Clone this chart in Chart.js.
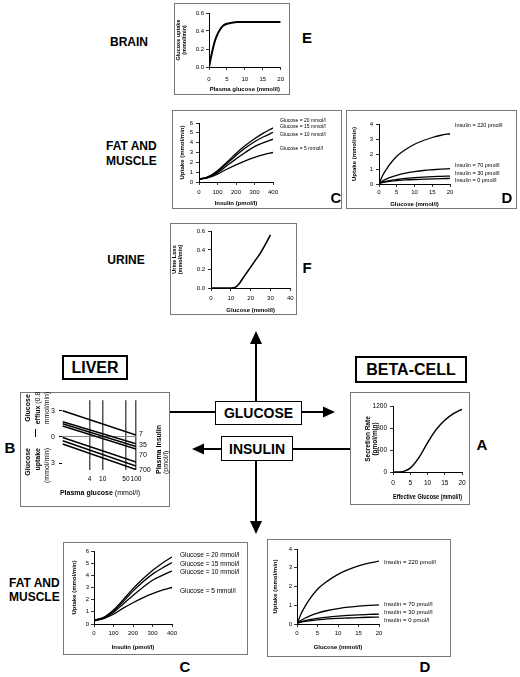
<!DOCTYPE html>
<html>
<head>
<meta charset="utf-8">
<script src="https://cdn.jsdelivr.net/npm/chart.js@4.4.1/dist/chart.umd.min.js"></script>
<style>
  html, body { margin: 0; padding: 0; background: #fff; }
  body { position: relative; width: 520px; height: 677px; overflow: hidden;
         font-family: "Liberation Sans", Arial, sans-serif; color: #000; }
  .frame { position: absolute; border: 1px solid #777; box-sizing: border-box; }
  canvas { position: absolute; }
  .t { position: absolute; font-weight: bold; white-space: nowrap; line-height: 1.15; }
  .c { transform: translate(-50%, -50%); text-align: center; }
  .box { position: absolute; box-sizing: border-box; border: 2px solid #000; background: #fff;
         font-weight: bold; display: flex; align-items: center; justify-content: center; }
  .rot { position: absolute; white-space: nowrap; font-size: 7px;
         transform: translate(-50%, -50%) rotate(-90deg); }
</style>
</head>
<body>
<svg width="520" height="677" style="position:absolute;left:0;top:0">
  <g stroke="#000" stroke-width="2">
    <line x1="256" y1="401" x2="256" y2="343"/>
    <line x1="170" y1="412" x2="215" y2="412"/>
    <line x1="302" y1="412" x2="324" y2="412"/>
    <line x1="293" y1="449" x2="350" y2="449"/>
    <line x1="221" y1="449" x2="203" y2="449"/>
    <line x1="256" y1="461" x2="256" y2="522"/>
  </g>
  <g fill="#000">
    <polygon points="256,331 250,344 262,344"/>
    <polygon points="335,412 323,406.5 323,417.5"/>
    <polygon points="192,449 204,443.5 204,454.5"/>
    <polygon points="256,534 250,521 262,521"/>
  </g>
</svg>

<div id="charts"></div>

<div class="t c" style="left:129px;top:43px;font-size:12px">BRAIN</div>
<div class="t" style="left:106px;top:139px;font-size:12px;line-height:15px">FAT AND<br>MUSCLE</div>
<div class="t c" style="left:126px;top:261px;font-size:12px">URINE</div>
<div class="t" style="left:9px;top:576px;font-size:12px;line-height:14px">FAT AND<br>MUSCLE</div>

<div class="t c" style="left:307px;top:38px;font-size:15px">E</div>
<div class="t c" style="left:336px;top:198px;font-size:15px">C</div>
<div class="t c" style="left:507px;top:198px;font-size:15px">D</div>
<div class="t c" style="left:307px;top:268px;font-size:15px">F</div>
<div class="t c" style="left:482px;top:445px;font-size:15px">A</div>
<div class="t c" style="left:10px;top:448px;font-size:15px">B</div>
<div class="t c" style="left:185px;top:667px;font-size:15px">C</div>
<div class="t c" style="left:425px;top:667px;font-size:15px">D</div>

<div class="box" style="left:62px;top:355px;width:66px;height:25px;font-size:16px">LIVER</div>
<div class="box" style="left:355px;top:356px;width:112px;height:27px;font-size:16px">BETA-CELL</div>
<div class="box" style="left:215px;top:401px;width:87px;height:24px;font-size:14px;border-width:1.5px">GLUCOSE</div>
<div class="box" style="left:221px;top:436px;width:72px;height:25px;font-size:14px;border-width:1.5px">INSULIN</div>

<!-- liver nomogram side texts -->
<div class="rot" style="left:37px;top:408px;width:36px;line-height:9.5px;text-align:center"><b>Glucose<br>efflux</b> (0.8<br>mmol/min)</div>
<div style="position:absolute;left:35px;top:429px;width:1px;height:8px;background:#000"></div>
<div class="rot" style="left:37px;top:468px;width:40px;line-height:9.5px;text-align:right"><b>Glucose<br>uptake</b><br>(mmol/min)</div>
<div class="rot" style="left:162px;top:445px;width:58px;line-height:7px;text-align:left"><b>Plasma Insulin</b><br>(pmol/l)</div>
<div class="t c" style="left:100px;top:493px;font-size:7px"><b>Plasma glucose</b> <span style="font-weight:normal">(mmol/l)</span></div>

<script>
// E: brain glucose uptake vs plasma glucose
const brainGlucose = [0, 0.5, 1, 1.5, 2, 3, 4, 5, 6, 8, 10, 15, 20];
const brainUptake = [0, 0.1, 0.19, 0.27, 0.33, 0.41, 0.46, 0.48, 0.49, 0.5, 0.5, 0.5, 0.5];

// C: fat and muscle uptake vs insulin, one curve per glucose level
const cInsulin = [0, 50, 100, 150, 200, 250, 300, 350, 400];
const cUptakeG20 = [0.3, 0.55, 1.15, 2.0, 2.9, 3.7, 4.4, 5.0, 5.5];
const cUptakeG15 = [0.3, 0.5, 1.05, 1.85, 2.7, 3.45, 4.1, 4.6, 5.05];
const cUptakeG10 = [0.3, 0.48, 0.95, 1.65, 2.35, 3.0, 3.6, 4.0, 4.35];
const cUptakeG5 = [0.25, 0.45, 0.8, 1.3, 1.75, 2.15, 2.5, 2.78, 3.0];
const cLabels = ['Glucose = 20 mmol/l', 'Glucose = 15 mmol/l', 'Glucose = 10 mmol/l', 'Glucose = 5 mmol/l'];

// D: fat and muscle uptake vs glucose, one curve per insulin level
const dGlucose = [0, 1, 2, 3, 5, 7.5, 10, 12.5, 15, 17.5, 20];
const dUptakeI220 = [0, 0.55, 0.95, 1.3, 1.85, 2.3, 2.65, 2.9, 3.1, 3.25, 3.35];
const dUptakeI70 = [0.05, 0.2, 0.32, 0.42, 0.58, 0.72, 0.82, 0.9, 0.95, 0.99, 1.02];
const dUptakeI30 = [0.05, 0.12, 0.18, 0.23, 0.3, 0.37, 0.42, 0.46, 0.49, 0.51, 0.53];
const dUptakeI0 = [0.05, 0.1, 0.14, 0.17, 0.22, 0.27, 0.3, 0.32, 0.34, 0.36, 0.37];
const dLabels = ['Insulin = 220 pmol/l', 'Insulin = 70 pmol/l', 'Insulin = 30 pmol/l', 'Insulin = 0 pmol/l'];

// F: urine loss vs glucose
const fGlucose = [0, 5, 10, 12, 14, 16, 18, 20, 22, 25, 28, 30];
const fUrineLoss = [0, 0, 0, 0.005, 0.04, 0.1, 0.16, 0.22, 0.28, 0.37, 0.48, 0.56];

// A: beta-cell secretion vs effective glucose
const aGlucose = [0, 2, 3.5, 5, 7.5, 10, 12.5, 15, 17.5, 20];
const aSecretion = [0, 2, 20, 70, 260, 530, 770, 940, 1060, 1140];

// B: liver nomogram, glucose flux lines per plasma insulin
const bGlucoseRange = [0.63, 100];
const bFluxStart = [3.0, 1.72, 1.5, 1.24, -0.07, -0.45, -0.82];
const bFluxEnd = [0.2, -0.8, -1.1, -1.4, -2.9, -3.35, -3.75];
const bInsulinLabels = ['7', '35', '', '70', '', '', '700'];

// tick values
const eTicksX = [0, 5, 10, 15, 20], eTicksY = [0, 0.2, 0.4, 0.6];
const cTicksX = [0, 100, 200, 300, 400], cTicksY = [0, 1, 2, 3, 4, 5, 6];
const dTicksX = [0, 5, 10, 15, 20], dTicksY = [0, 1, 2, 3, 4];
const fTicksX = [0, 10, 20, 30, 40], fTicksY = [0, 0.2, 0.4, 0.6];
const aTicksX = [0, 5, 10, 15, 20], aTicksY = [0, 400, 800, 1200];
const bTicksX = [4, 10, 50, 100], bTicksY = [-3, 0, 3];

const FONT = '"Liberation Sans", Arial, sans-serif';
Chart.defaults.font.family = FONT;
Chart.defaults.color = '#000';

// writes each dataset's label just right of its last point
Chart.register({
  id: 'endLabels',
  afterDatasetsDraw(chart, args, opts) {
    if (!opts || !opts.dy) return;
    const ctx = chart.ctx;
    ctx.save();
    ctx.font = opts.font;
    ctx.fillStyle = '#000';
    ctx.textBaseline = 'middle';
    chart.data.datasets.forEach((ds, i) => {
      if (!ds.label) return;
      const last = ds.data[ds.data.length - 1];
      const x = chart.scales.x.getPixelForValue(last.x) + opts.dx;
      const y = chart.scales.y.getPixelForValue(last.y) + (opts.dy[i] || 0);
      ctx.fillText(ds.label, x, y);
    });
    ctx.restore();
  }
});

function lineSet(xs, ys, label, width) {
  return {
    label: label || '',
    data: xs.map((x, i) => ({ x, y: ys[i] })),
    borderColor: '#000', borderWidth: width || 1.3, pointRadius: 0, fill: false,
    cubicInterpolationMode: 'monotone'
  };
}

function axis(o, horizontal) {
  return {
    type: o.type || 'linear', min: o.min, max: o.max,
    afterBuildTicks: s => { s.ticks = o.ticks.map(v => ({ value: v })); },
    afterFit: s => { if (horizontal) s.height = o.h; else s.width = o.w; },
    grid: Object.assign({ drawOnChartArea: false, tickLength: 3, color: '#000', lineWidth: 0.8 }, o.grid),
    border: Object.assign({ color: '#000', width: 1 }, o.border),
    ticks: { font: { size: o.tickSize || 6 }, padding: o.tickPad, autoSkip: false, maxRotation: 0,
             callback: o.fmt || (v => v) },
    title: { display: !!o.title, text: o.title,
             font: { size: o.titleSize || 6, weight: 'bold', lineHeight: o.titleLH || 1.2 },
             padding: horizontal ? { top: 0, bottom: o.titlePad } : { top: o.titlePad, bottom: 0 } }
  };
}

// rect = frame on the page, area = plot area inside it
function panel(rect, area, datasets, xo, yo, labels) {
  const [left, top, w, h] = rect;
  const holder = document.getElementById('charts');
  const frame = document.createElement('div');
  frame.className = 'frame';
  frame.style.cssText = `left:${left}px;top:${top}px;width:${w}px;height:${h}px`;
  holder.appendChild(frame);
  const canvas = document.createElement('canvas');
  canvas.width = w;
  canvas.height = h;
  canvas.style.cssText = `position:absolute;left:${left}px;top:${top}px;width:${w}px;height:${h}px`;
  holder.appendChild(canvas);
  xo.h = h - area.bottom;
  yo.w = area.left;
  return new Chart(canvas, {
    type: 'line',
    data: { datasets },
    options: {
      responsive: false, animation: false, devicePixelRatio: 1,
      layout: { padding: { left: 0, top: area.top, right: w - area.right, bottom: 0 } },
      plugins: { legend: { display: false }, tooltip: { enabled: false }, endLabels: labels || false },
      scales: { x: axis(xo, true), y: axis(yo, false) }
    }
  });
}

const oneDecimal = v => v.toFixed(1);
const cSets = () => [
  lineSet(cInsulin, cUptakeG20, cLabels[0]), lineSet(cInsulin, cUptakeG15, cLabels[1]),
  lineSet(cInsulin, cUptakeG10, cLabels[2]), lineSet(cInsulin, cUptakeG5, cLabels[3])
];
const dSets = () => [
  lineSet(dGlucose, dUptakeI220, dLabels[0]), lineSet(dGlucose, dUptakeI70, dLabels[1]),
  lineSet(dGlucose, dUptakeI30, dLabels[2]), lineSet(dGlucose, dUptakeI0, dLabels[3])
];

// E - brain
panel([174, 3, 116, 92], { left: 35, top: 10, right: 109, bottom: 64 },
  [lineSet(brainGlucose, brainUptake, '', 2)],
  { min: 0, max: 20, ticks: eTicksX, tickPad: 6, title: 'Plasma glucose (mmol/l)', titlePad: 2.4 },
  { min: 0, max: 0.6, ticks: eTicksY, fmt: oneDecimal, tickPad: 2,
    title: ['Glucose uptake', '(mmol/min)'], titleSize: 5.5, titleLH: 1, titlePad: 2 });

// C - fat and muscle (top)
panel([172, 110, 170, 99], { left: 27, top: 13, right: 101, bottom: 72 }, cSets(),
  { min: 0, max: 400, ticks: cTicksX, tickPad: 3.4, title: 'Insulin (pmol/l)', titlePad: 2.4 },
  { min: 0, max: 6, ticks: cTicksY, tickPad: 3, title: 'Uptake (mmol/min)', titlePad: 6.4 },
  { font: '5px ' + FONT, dx: 7, dy: [-7, -6, -5, -3.5] });

// D - fat and muscle (top)
panel([346, 110, 171, 99], { left: 33, top: 14, right: 104, bottom: 74 }, dSets(),
  { min: 0, max: 20, ticks: dTicksX, tickPad: 1.4, title: 'Glucose (mmol/l)', titlePad: 1.4 },
  { min: 0, max: 4, ticks: dTicksY, tickPad: 3, title: 'Uptake (mmol/min)', titlePad: 4.4 },
  { font: '5.5px ' + FONT, dx: 5, dy: [-8, -3, -3, 2.5] });

// F - urine
panel([170, 223, 127, 92], { left: 41, top: 8, right: 122, bottom: 65 },
  [lineSet(fGlucose, fUrineLoss, '', 1.6)],
  { min: 0, max: 40, ticks: fTicksX, tickPad: 3.4, title: 'Glucose (mmol/l)', titlePad: 1.4 },
  { min: 0, max: 0.6, ticks: fTicksY, fmt: oneDecimal, tickPad: 3,
    title: ['Urine Loss', '(mmol/min)'], titleSize: 5.5, titleLH: 1.1, titlePad: 1.5 });

// A - beta-cell
panel([350, 392, 120, 113], { left: 43, top: 14, right: 112, bottom: 80 },
  [lineSet(aGlucose, aSecretion, '', 1.5)],
  { min: 0, max: 20, ticks: aTicksX, tickSize: 6.5, tickPad: 4,
    title: 'Effective Glucose (mmol/l)', titleSize: 6.5, titlePad: 4 },
  { min: 0, max: 1200, ticks: aTicksY, tickSize: 6.5, tickPad: 3,
    title: ['Secretion Rate', '(pmol/min)'], titleSize: 6.5, titleLH: 1.08, titlePad: 15 });

// B - liver nomogram
panel([20, 392, 150, 115], { left: 42, top: 6, right: 116, bottom: 78 },
  bFluxStart.map((s, i) => ({
    label: bInsulinLabels[i],
    data: [{ x: bGlucoseRange[0], y: s }, { x: bGlucoseRange[1], y: bFluxEnd[i] }],
    borderColor: '#000', borderWidth: 1.5, pointRadius: 0, fill: false
  })),
  { type: 'logarithmic', min: bGlucoseRange[0], max: bGlucoseRange[1], ticks: bTicksX,
    tickSize: 6.5, tickPad: 5,
    grid: { drawOnChartArea: true, drawTicks: false, color: '#555', lineWidth: 1.5 },
    border: { display: false } },
  { min: -3.8, max: 4.2, ticks: bTicksY, fmt: v => Math.abs(v), tickSize: 7, tickPad: 4,
    grid: { drawOnChartArea: true, tickColor: '#000', lineWidth: 1,
            color: c => (c.tick && c.tick.value === 0 ? '#888' : 'rgba(0,0,0,0)') },
    border: { display: false } },
  { font: '7px ' + FONT, dx: 3, dy: [-1, 1, 0, 5.6, 0, 0, 0] });

// C - fat and muscle (bottom)
panel([63, 542, 185, 113], { left: 31, top: 9, right: 109, bottom: 82 }, cSets(),
  { min: 0, max: 400, ticks: cTicksX, tickPad: 2.4, title: 'Insulin (pmol/l)', titlePad: 4.4 },
  { min: 0, max: 6, ticks: cTicksY, tickPad: 2, title: 'Uptake (mmol/min)', titlePad: 7.4 },
  { font: '6.5px ' + FONT, dx: 8, dy: [-2, 1.5, 1, 3.5] });

// D - fat and muscle (bottom)
panel([267, 539, 184, 118], { left: 30, top: 10, right: 112, bottom: 85 }, dSets(),
  { min: 0, max: 20, ticks: dTicksX, tickPad: 2.4, title: 'Glucose (mmol/l)', titlePad: 6.4 },
  { min: 0, max: 4, ticks: dTicksY, tickPad: 2, title: 'Uptake (mmol/min)', titlePad: 4.4 },
  { font: '6px ' + FONT, dx: 5, dy: [1, -1, -2, 3] });
</script>
</body>
</html>
